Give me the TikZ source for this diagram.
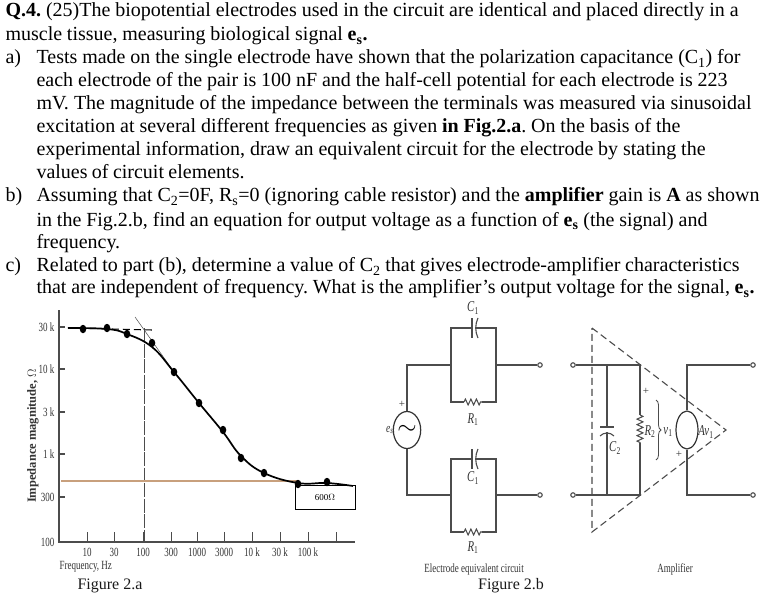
\documentclass[tikz,border=0pt]{standalone}
\usepackage{fontspec}
\setmainfont{Liberation Serif}
\newfontfamily\condfont[FakeStretch=0.72]{Liberation Serif}
\usepackage{tikz}
\usetikzlibrary{positioning,calc,shapes.geometric,decorations.pathmorphing,decorations.pathreplacing}

\newcommand{\txtline}[5]{\node[txt] (#1) at (#2,#3) {\makebox[#4pt][s]{#5}};}
\frenchspacing

\begin{document}
\begin{tikzpicture} [x=1pt, y=-1pt, line width=1.1pt,
                    wire/.style={draw=black!70},
                    txt/.style={anchor=base west,inner sep=0pt,font=\fontsize{20}{22}\selectfont,text=black},
                    lab/.style={inner sep=0pt,font=\condfont\fontsize{12.5}{14}\selectfont,text=black!80},
                    mlab/.style={inner sep=0pt,font=\condfont\fontsize{15}{16}\selectfont,text=black!80},
                    figlab/.style={inner sep=0pt,font=\fontsize{16}{18}\selectfont,text=black!90},
                    solpt/.style={ellipse,fill=black,inner sep=0pt,minimum width=6.5pt,minimum height=8.5pt},
                    termi/.style={circle,draw=black!70,fill=white,inner sep=0pt,minimum size=4.5pt},
                    lahde/.style={ellipse,draw=black!80,fill=white,inner sep=0pt,line width=1.2pt},
                    longdash/.style={dash pattern=on 7pt off 4pt},
                    zigres/.style={wire,decorate,decoration={zigzag,segment length=5.5pt,amplitude=2.8pt}}]

\useasboundingbox (0,0) rectangle (764,599);

% question text
\txtline{L1}{5}{17}{733}{\textbf{Q.4.} (25)The biopotential electrodes used in the circuit are identical and placed directly in a}
\txtline{L2}{5}{41}{362}{muscle tissue, measuring biological signal \textbf{e\textsubscript{s}.}}
\txtline{La}{5}{64}{15}{a)}
\txtline{L3}{36}{64}{704}{Tests made on the single electrode have shown that the polarization capacitance (C\textsubscript{1}) for}
\txtline{L4}{36}{87}{691}{each electrode of the pair is 100 nF and the half-cell potential for each electrode is 223}
\txtline{L5}{36}{110}{715}{mV. The magnitude of the impedance between the terminals was measured via sinusoidal}
\txtline{L6}{36}{133}{644}{excitation at several different frequencies as given \textbf{in Fig.2.a}. On the basis of the}
\txtline{L7}{36}{156}{669}{experimental information, draw an equivalent circuit for the electrode by stating the}
\txtline{L8}{36}{179}{208}{values of circuit elements.}
\txtline{Lb}{5}{202}{16}{b)}
\txtline{L9}{36}{202}{723}{Assuming that C\textsubscript{2}=0F, R\textsubscript{s}=0 (ignoring cable resistor) and the \textbf{amplifier} gain is \textbf{A} as shown}
\txtline{L10}{36}{226}{671}{in the Fig.2.b, find an equation for output voltage as a function of \textbf{e\textsubscript{s}} (the signal) and}
\txtline{L11}{36}{248}{82}{frequency.}
\txtline{Lc}{5}{272}{15}{c)}
\txtline{L12}{36}{272}{703}{Related to part (b), determine a value of C\textsubscript{2} that gives electrode-amplifier characteristics}
\txtline{L13}{36}{294}{718}{that are independent of frequency. What is the amplifier’s output voltage for the signal, \textbf{e\textsubscript{s}.}}

% Figure 2.a
\draw[wire] (59,310) -- (59,542) -- (355,542);
\foreach \yy/\ylab in {327/30 k,369/10 k,412/3 k,454/1 k,497/300,542/100} {
    \draw[wire] (59,\yy) -- (65,\yy);
    \node[lab,anchor=east] at (55,\yy) {\ylab};
}
\foreach \xx/\xlab in {87/10,114/30,143/100,171/300,197/1000,224/3000,252/10 k,280/30 k,308/100 k} {
    \draw[wire,line width=0.7pt] (\xx,532) -- (\xx,542);
    \node[lab] at (\xx,552) {\xlab};
}
\draw[wire,line width=0.7pt] (336,532) -- (336,542);
\node[mlab,rotate=90,font=\bfseries\fontsize{12.5}{14}\selectfont] (ylabel) at (33,436) {Impedance magnitude, $\Omega$};
\node[lab,anchor=west] (xlabel) at (59,567) {Frequency, Hz};
\node[figlab] (figa) at (110,586) {Figure 2.a};

\draw[draw=black!70,dash pattern=on 14pt off 1.5pt,line width=0.8pt] (144,328) -- (144,542);
\draw[draw=black!70,line width=0.5pt] (135,317) -- (174,372);
\draw[black,longdash] (68,328) -- (153,330);
\draw[draw={rgb,255:red,200;green,160;blue,125},line width=1.2pt] (61,481) -- (298,481);
\node[draw=black,fill=white,line width=0.8pt,minimum width=60pt,minimum height=24pt,inner sep=0pt,font=\fontsize{9}{10}\selectfont] (boxZ) at (325,497) {600$\Omega$};
\draw[black,line width=1.7pt] plot[smooth,tension=0.7] coordinates {(68,328) (107,329) (127,334) (152,347) (174,372) (199,403) (223,432) (241,456) (264,473) (298,483) (327,483) (353,486)};
\foreach \i/\px/\py in {1/83/329,2/107/328,3/127/334,4/152/343,5/174/372,6/199/403,7/223/430,8/241/458,9/264/473,10/298/484,11/327/482}
    \node[solpt] (P\i) at (\px,\py) {};

% Figure 2.b, electrode pair
\node[lahde,minimum width=21pt,minimum height=37pt,font=\bfseries\fontsize{26}{26}\selectfont] (es) at (407,430) {$\sim$};
\node[mlab,anchor=east,font=\condfont\itshape\fontsize{13}{13}\selectfont] (lbles) at (394,430) {e\textsubscript{s}};
\node[mlab,font=\fontsize{11}{11}\selectfont] (plusa) at (402,404) {+};

\foreach \nn/\yt/\ym/\yb in {A/328/365/402,B/459/495/532} {
    \coordinate (TL\nn) at (451,\yt);
    \coordinate (TR\nn) at (496,\yt);
    \coordinate (ML\nn) at (451,\ym);
    \coordinate (MR\nn) at (496,\ym);
    \coordinate (BL\nn) at (451,\yb);
    \coordinate (BR\nn) at (496,\yb);
    \coordinate (CL\nn) at (472,\yt);
    \coordinate (CR\nn) at (475,\yt);
    \coordinate (RL\nn) at (464,\yb);
    \coordinate (RR\nn) at (482,\yb);
    \node[termi] (T\nn) at (540,\ym) {};
    \draw[wire] (CL\nn) -- (TL\nn) -- (BL\nn) -- (RL\nn);
    \draw[wire] (CR\nn) -- (TR\nn) -- (BR\nn) -- (RR\nn);
    \draw[zigres] (RL\nn) -- (RR\nn);
    \draw[wire] (MR\nn) -- (T\nn);
    \draw[wire] ($(CL\nn)+(0,-10)$) -- ($(CL\nn)+(0,10)$);
    \draw[wire] ($(CR\nn)+(3,-10)$) .. controls ($(CR\nn)+(0,-4)$) and ($(CR\nn)+(0,4)$) .. ($(CR\nn)+(3,10)$);
}
\draw[wire] (es.north) |- (MLA);
\draw[wire] (es.south) |- (MLB);

\node[mlab] (c1a) at (473,308) {\textit{C}\textsubscript{1}};
\node[mlab] (r1a) at (473,420) {\textit{R}\textsubscript{1}};
\node[mlab] (c1b) at (473,478) {\textit{C}\textsubscript{1}};
\node[mlab] (r1b) at (473,548) {\textit{R}\textsubscript{1}};
\node[lab] (capb) at (474,569) {Electrode equivalent circuit};
\node[figlab] (figb) at (511,586) {Figure 2.b};

% amplifier
\draw[draw=black!70,longdash] (592,328) -- (726,430) -- (592,532) -- cycle;
\node[termi] (INa) at (573,365) {};
\node[termi] (INb) at (573,495) {};
\node[termi] (OUTa) at (753,365) {};
\node[termi] (OUTb) at (753,495) {};
\node[lahde,fill=none,minimum width=22pt,minimum height=38pt] (avs) at (687,430) {};
\coordinate (R2t) at (640,365);
\coordinate (R2b) at (640,495);
\coordinate (R2u) at (640,415);
\coordinate (R2d) at (640,443);
\coordinate (C2t) at (607,365);
\coordinate (C2b) at (607,495);
\coordinate (C2u) at (607,427);
\coordinate (C2d) at (607,432);

\draw[wire] (INa) -- (R2t) -- (R2u);
\draw[wire] (INb) -- (R2b) -- (R2d);
\draw[zigres] (R2u) -- (R2d);
\draw[wire] (C2t) -- (C2u);
\draw[wire] (C2b) -- (C2d);
\draw[wire] ($(C2u)+(-7,0)$) -- ($(C2u)+(7,0)$);
\draw[wire] ($(C2d)+(-7,4)$) .. controls ($(C2d)+(-3,0)$) and ($(C2d)+(3,0)$) .. ($(C2d)+(7,4)$);
\draw[wire] (OUTa) -| (avs.north);
\draw[wire] (OUTb) -| (avs.south);

\coordinate (brt) at (656,400);
\coordinate (brb) at (656,460);
\draw[draw=black!70,line width=0.8pt,decorate,decoration={brace,amplitude=5pt}] (brt) -- (brb);
\node[mlab,font=\fontsize{11}{11}\selectfont] (pl1) at (646,391) {+};
\node[mlab,font=\fontsize{11}{11}\selectfont] (pl2) at (679,454) {+};
\node[mlab] (r2) at (650,432) {\textit{R}\textsubscript{2}};
\node[mlab] (v1) at (668,432) {\textit{v}\textsubscript{1}};
\node[mlab] (av) at (706,432) {\textit{Av}\textsubscript{1}};
\node[mlab] (c2) at (615,448) {\textit{C}\textsubscript{2}};
\node[lab] (capc) at (675,569) {Amplifier};
\end{tikzpicture}
\end{document}
